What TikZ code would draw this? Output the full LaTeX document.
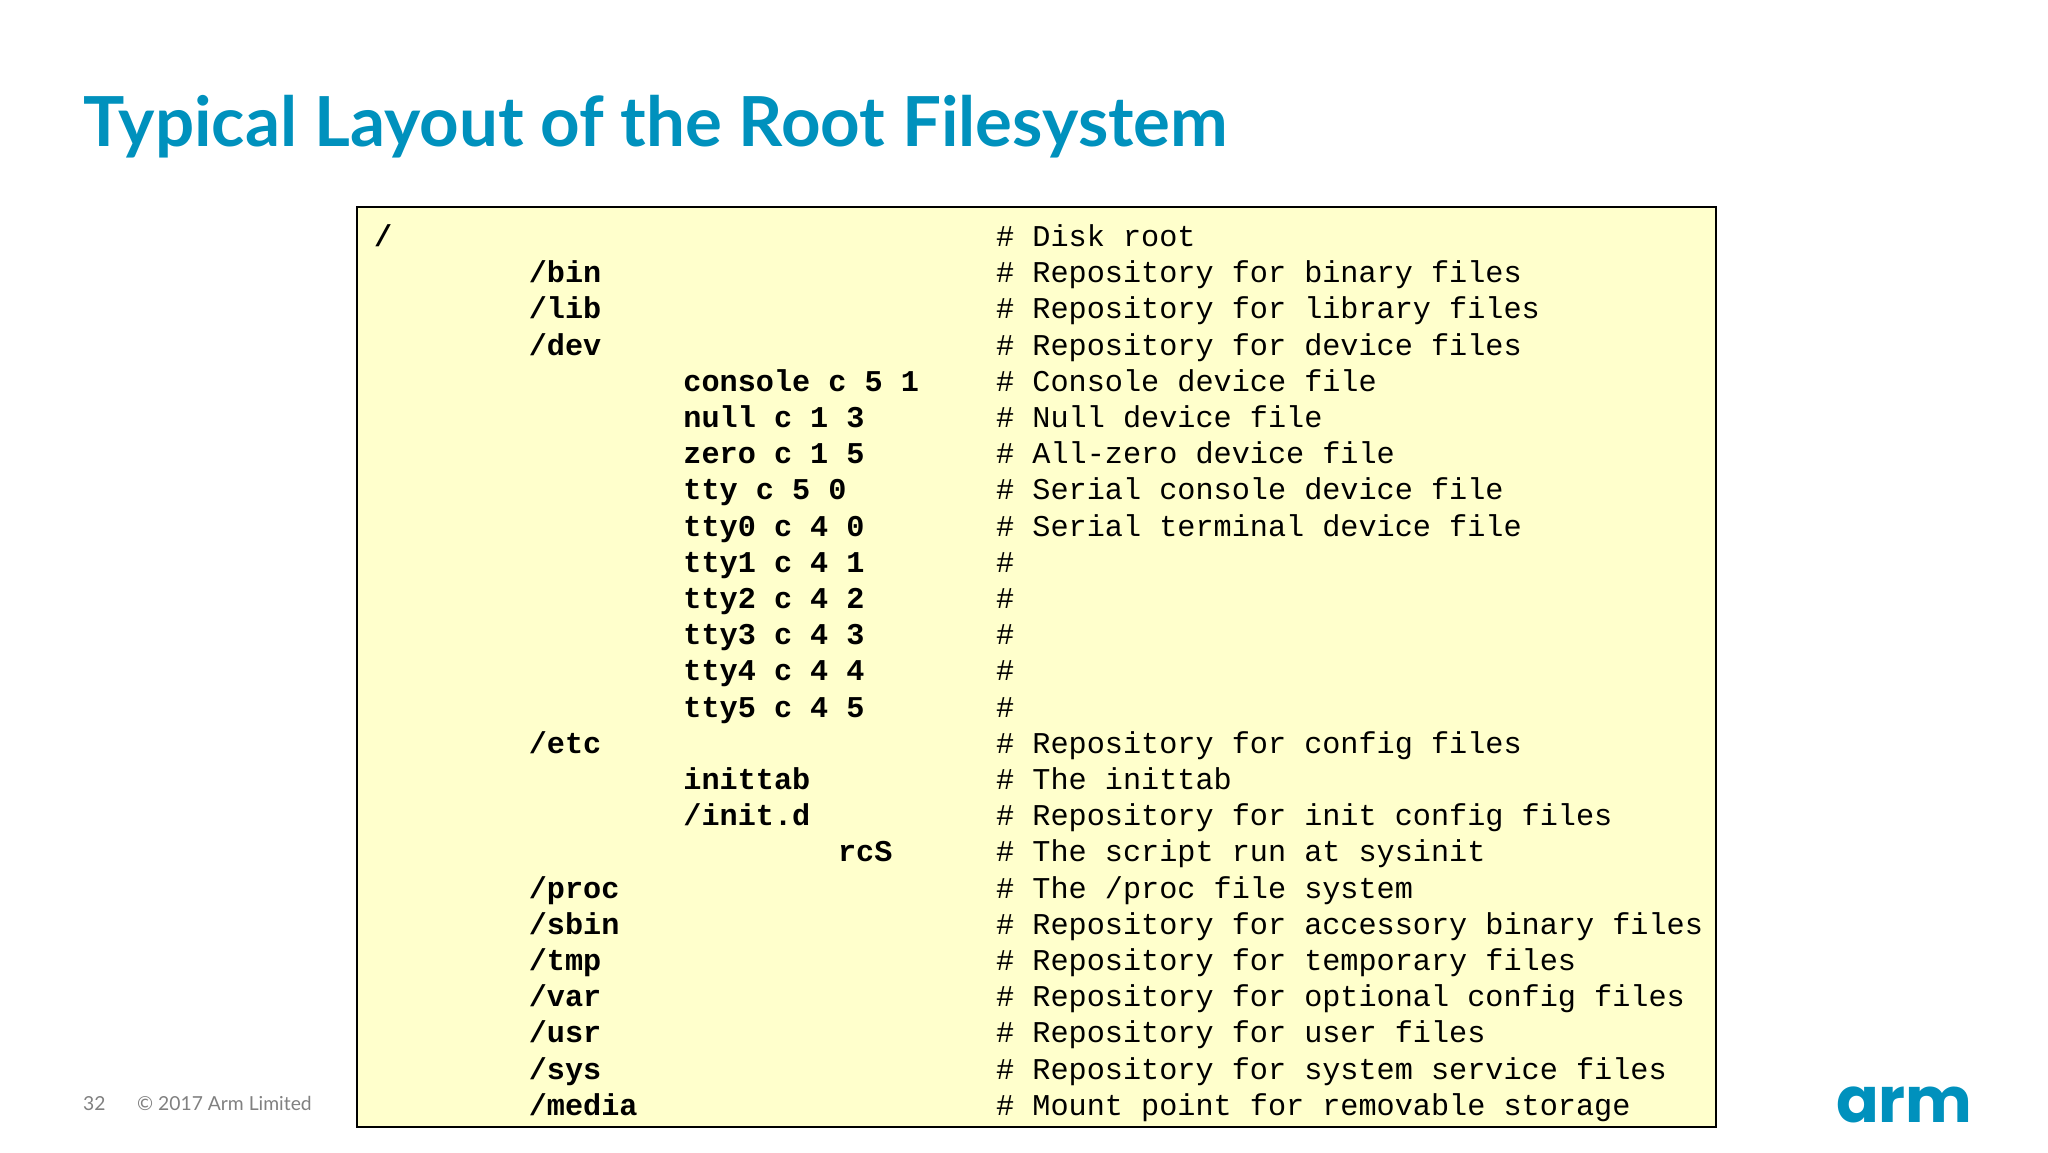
\documentclass[tikz,border=0pt]{standalone}
\usepackage{fontspec}
\setmainfont{Lato}
\newfontfamily\monof{Liberation Mono}
\newfontfamily\armf{Poppins}
\definecolor{armblue}{RGB}{0,145,189}
\definecolor{boxfill}{RGB}{255,255,204}
\begin{document}
\begin{tikzpicture}[x=1pt,y=-1pt,
  p/.style={anchor=mid west,inner sep=0pt,font=\monof\bfseries\fontsize{30.2}{36}\selectfont},
  c/.style={anchor=mid west,inner sep=0pt,font=\monof\fontsize{30.2}{36}\selectfont}]
\useasboundingbox (0,0) rectangle (2048,1152);
\node[anchor=base west,inner sep=0pt,text=armblue,font=\bfseries\fontsize{69}{80}\selectfont] (title) at (83,146) {Typical Layout of the Root Filesystem};
\draw[fill=boxfill,line width=1.5pt] (357,207) rectangle (1716,1127);
\foreach \ind/\pth/\com [count=\i from 0] in {
 0/{/}/{\# Disk root},
 1/{/bin}/{\# Repository for binary files},
 1/{/lib}/{\# Repository for library files},
 1/{/dev}/{\# Repository for device files},
 2/{console c 5 1}/{\# Console device file},
 2/{null c 1 3}/{\# Null device file},
 2/{zero c 1 5}/{\# All-zero device file},
 2/{tty c 5 0}/{\# Serial console device file},
 2/{tty0 c 4 0}/{\# Serial terminal device file},
 2/{tty1 c 4 1}/{\#},
 2/{tty2 c 4 2}/{\#},
 2/{tty3 c 4 3}/{\#},
 2/{tty4 c 4 4}/{\#},
 2/{tty5 c 4 5}/{\#},
 1/{/etc}/{\# Repository for config files},
 2/{inittab}/{\# The inittab},
 2/{/init.d}/{\# Repository for init config files},
 3/{rcS}/{\# The script run at sysinit},
 1/{/proc}/{\# The /proc file system},
 1/{/sbin}/{\# Repository for accessory binary files},
 1/{/tmp}/{\# Repository for temporary files},
 1/{/var}/{\# Repository for optional config files},
 1/{/usr}/{\# Repository for user files},
 1/{/sys}/{\# Repository for system service files},
 1/{/media}/{\# Mount point for removable storage}}
{
 \node[p] (p\i) at ({374+\ind*154.6},{244+\i*36.2}) {\pth};
 \node[c] (c\i) at (996,{244+\i*36.2}) {\com};
}
\node[anchor=base west,inner sep=0pt,text=gray,font=\fontsize{19.3}{22}\selectfont] (pg) at (83,1110) {32};
\node[anchor=base west,inner sep=0pt,text=gray,font=\fontsize{19.3}{22}\selectfont] (copy) at (137,1110) {© 2017 Arm Limited};
\node[anchor=base west,inner sep=0pt,text=armblue,font=\armf\bfseries\fontsize{63}{70}\selectfont] (arm) at (1836,1122) {arm};
\end{tikzpicture}
\end{document}
